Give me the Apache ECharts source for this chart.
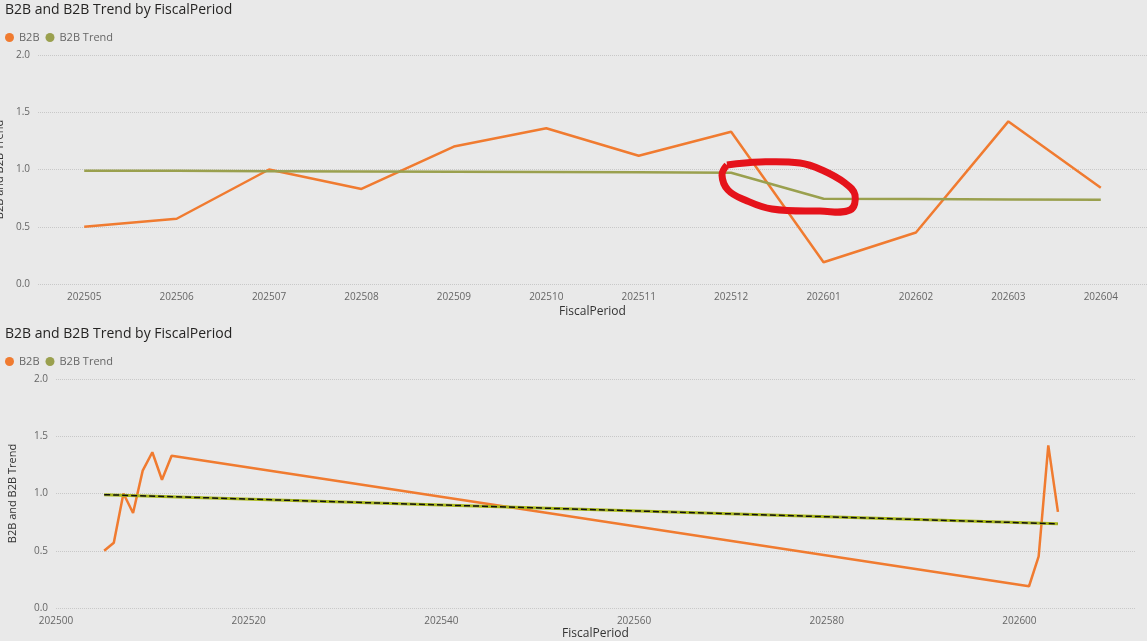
<!DOCTYPE html>
<html><head><meta charset="utf-8">
<script src="https://cdn.jsdelivr.net/npm/echarts@6/dist/echarts.min.js"></script>
<style>html,body{margin:0;background:#e9e9e9}#c{width:1147px;height:641px}</style>
</head><body><div id="c"></div>
<script>
const periods=['202505','202506','202507','202508','202509','202510','202511','202512','202601','202602','202603','202604'];
const periodNums=[202505,202506,202507,202508,202509,202510,202511,202512,202601,202602,202603,202604];
const b2b=[0.50,0.57,1.00,0.83,1.20,1.36,1.12,1.33,0.19,0.45,1.42,0.84];
const trendTop=[0.99,0.988,0.985,0.982,0.980,0.978,0.975,0.972,0.745,0.742,0.739,0.736];
const trendBottomEnds=[[202505,0.99],[202604,0.735]];
const yTicks=[0,0.5,1,1.5,2];
const ORANGE='#F07B30',OLIVE='#9AA04E';
const font='"Open Sans", "Noto Sans", sans-serif';
const c=echarts.init(document.getElementById('c'));
const yAx=(gi)=>({type:'value',gridIndex:gi,min:0,max:2,interval:0.5,name:'B2B and B2B Trend',nameLocation:'middle',nameGap:gi?38:28,
 nameTextStyle:{color:'#333',fontSize:11,fontFamily:font},
 axisLabel:{color:'#666',fontSize:10,fontFamily:font,formatter:v=>v.toFixed(1)},
 splitLine:{lineStyle:{type:'dotted',color:'#c8c8c8'}},axisLine:{show:false},axisTick:{show:false}});
c.setOption({
 backgroundColor:'#e9e9e9',animation:false,
 title:[{text:'B2B and B2B Trend by FiscalPeriod',left:0,top:-2,textStyle:{fontSize:14,fontWeight:'normal',color:'#252423',fontFamily:font}},
        {text:'B2B and B2B Trend by FiscalPeriod',left:0,top:322,textStyle:{fontSize:14,fontWeight:'normal',color:'#252423',fontFamily:font}}],
 legend:[{data:['B2B','B2B Trend'],left:0,top:27,icon:'circle',itemWidth:9,itemHeight:9,itemGap:6,textStyle:{color:'#666',fontSize:11,fontFamily:font}},
         {data:['B2B ','B2B Trend '],left:0,top:351,icon:'circle',itemWidth:9,itemHeight:9,itemGap:6,textStyle:{color:'#666',fontSize:11,fontFamily:font},
          formatter:n=>n.trim()}],
 grid:[{left:38,right:0,top:55,height:229,outerBoundsMode:'none'},{left:56,right:12,top:379,height:229,outerBoundsMode:'none'}],
 xAxis:[{type:'category',gridIndex:0,data:periods,name:'FiscalPeriod',nameLocation:'middle',nameGap:22,
   nameTextStyle:{color:'#333',fontSize:12,fontFamily:font},axisLabel:{color:'#666',fontSize:10,fontFamily:font},
   axisLine:{show:false},axisTick:{show:false}},
  {type:'value',gridIndex:1,min:202500,max:202612,interval:20,name:'FiscalPeriod',nameLocation:'middle',nameGap:20,
   nameTextStyle:{color:'#333',fontSize:12,fontFamily:font},
   axisLabel:{color:'#666',fontSize:10,fontFamily:font,showMaxLabel:false,formatter:v=>String(v)},
   splitLine:{show:false},axisLine:{show:false},axisTick:{show:false}}],
 yAxis:[yAx(0),yAx(1)],
 series:[
  {name:'B2B',type:'line',xAxisIndex:0,yAxisIndex:0,data:b2b,symbol:'none',lineStyle:{width:2.5,color:ORANGE},itemStyle:{color:ORANGE}},
  {name:'B2B Trend',type:'line',xAxisIndex:0,yAxisIndex:0,data:trendTop,symbol:'none',lineStyle:{width:2.5,color:OLIVE},itemStyle:{color:OLIVE}},
  {name:'B2B ',type:'line',xAxisIndex:1,yAxisIndex:1,data:periodNums.map((p,i)=>[p,b2b[i]]),symbol:'none',lineStyle:{width:2.5,color:ORANGE},itemStyle:{color:ORANGE}},
  {name:'B2B Trend ',type:'line',xAxisIndex:1,yAxisIndex:1,data:trendBottomEnds,symbol:'none',lineStyle:{width:3,color:'#A9B81A'},itemStyle:{color:OLIVE}},
  {name:'trendDash',type:'line',xAxisIndex:1,yAxisIndex:1,data:trendBottomEnds,symbol:'none',lineStyle:{width:1.5,color:'#111',type:[6,3]},z:5}
 ],
 graphic:[{type:'polyline',shape:{smooth:0.4,points:[[727,165],[760,162],[800,163],[822,170],[845,183],[855,195],[850,210],[820,211],[772,209],[745,200],[728,190],[722,175],[727,165]]},
   style:{stroke:'#E5131B',lineWidth:7,fill:null},z:100}]
});
</script></body></html>
